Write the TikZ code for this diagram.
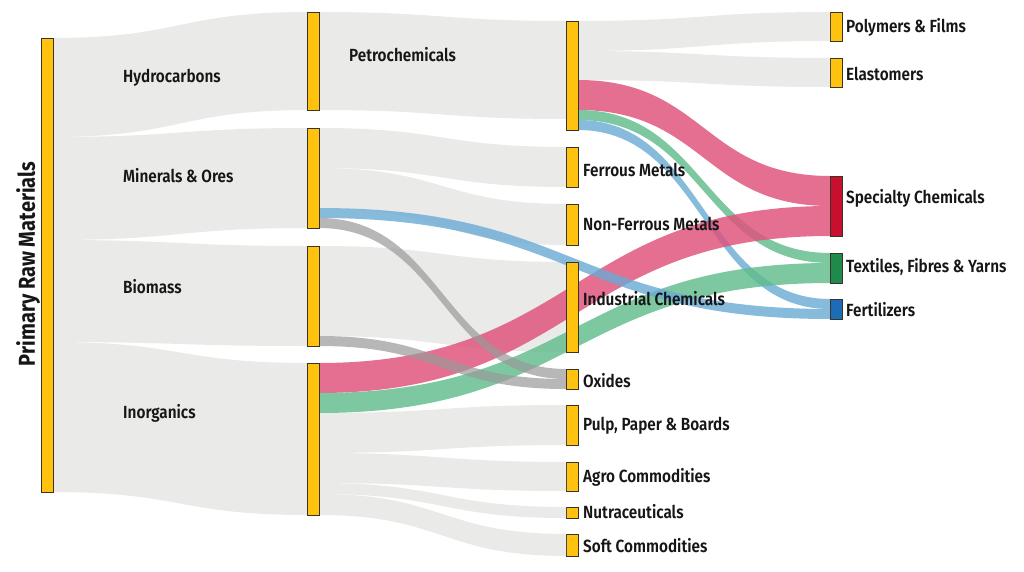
\documentclass[tikz,border=0pt]{standalone}
\usepackage{fontspec}
\setmainfont{Fira Sans}[UprightFont={* SemiBold}, BoldFont={* Bold}, FakeStretch=0.87]
\usetikzlibrary{calc}
\definecolor{flowgray}{HTML}{E8E8E6}
\definecolor{barfill}{HTML}{FFC20E}
\definecolor{barline}{HTML}{3A3428}
\definecolor{pinkf}{HTML}{E0507A}
\definecolor{greenf}{HTML}{5DBB8A}
\definecolor{bluef}{HTML}{6AAAD4}
\definecolor{greyline}{HTML}{999999}
\definecolor{specc}{HTML}{C8102E}
\definecolor{textilec}{HTML}{1E8A4C}
\definecolor{fertc}{HTML}{1C6DB5}
\definecolor{txt}{HTML}{161616}
% bar: [style]{name}{left x}{top}{bottom}
\newcommand\sbar[5][]{\node[bar,#1,minimum height={(#5-#4)*1pt}] (#2) at ({#3+6},{(#4+#5)/2}) {};}
% flow: style, source node, top, bottom, target node, top, bottom
\newcommand\flow[7]{\path[#1] let \p1=(#2.east), \p2=(#5.west), \n1={\x1}, \n2={\x2}, \n3={(\x1+\x2)/2} in
  (\n1,#3) .. controls (\n3,#3) and (\n3,#6) .. (\n2,#6) -- (\n2,#7) .. controls (\n3,#7) and (\n3,#4) .. (\n1,#4) -- cycle;}
\begin{document}
\begin{tikzpicture}[x=1pt,y=-1pt,
  bar/.style={draw=barline, fill=barfill, line width=0.9pt, inner sep=0pt, outer sep=0pt, minimum width=12pt},
  lab/.style={anchor=west, inner sep=0pt, text=txt, font=\fontsize{17.6}{20}\selectfont},
  gflow/.style={fill=flowgray, fill opacity=0.9},
  pflow/.style={fill=pinkf, fill opacity=0.82},
  grflow/.style={fill=greenf, fill opacity=0.8},
  bflow/.style={fill=bluef, fill opacity=0.8},
  lflow/.style={fill=greyline, fill opacity=0.7}]
\fill[white] (0,0) rectangle (1024,572);
\useasboundingbox (0,0) rectangle (1024,572);
% bars
\sbar{raw}{41}{38}{492}
\sbar{petro}{307}{12}{110}
\sbar{miner}{307}{128}{228}
\sbar{bio}{307}{246}{346}
\sbar{inorg}{307}{363}{515}
\sbar{top}{566}{21}{130}
\sbar{ferr}{566}{147}{187}
\sbar{nonf}{566}{204}{245}
\sbar{indc}{566}{262}{352}
\sbar{oxid}{566}{369}{389}
\sbar{pulp}{566}{405}{445}
\sbar{agro}{566}{462}{491}
\sbar{nutra}{566}{507}{518}
\sbar{soft}{566}{534}{556}
\sbar{poly}{830}{12}{41}
\sbar{elas}{830}{58}{87}
\sbar[fill=specc]{spec}{830}{176}{236}
\sbar[fill=textilec]{texti}{830}{253}{283}
\sbar[fill=fertc]{fert}{830}{299}{319}
% gray flows
\flow{gflow}{raw}{38}{137}{petro}{12}{110}
\flow{gflow}{raw}{137}{240}{miner}{128}{228}
\flow{gflow}{raw}{240}{342}{bio}{246}{346}
\flow{gflow}{raw}{342}{492}{inorg}{363}{515}
\flow{gflow}{petro}{12}{110}{top}{21}{119}
\flow{gflow}{miner}{128}{168}{ferr}{147}{187}
\flow{gflow}{miner}{168}{208}{nonf}{204}{245}
\flow{gflow}{bio}{246}{336}{indc}{262}{352}
\flow{gflow}{inorg}{413}{453}{pulp}{405}{445}
\flow{gflow}{inorg}{453}{483}{agro}{462}{491}
\flow{gflow}{inorg}{483}{494}{nutra}{507}{518}
\flow{gflow}{inorg}{494}{515}{soft}{534}{556}
\flow{gflow}{top}{21}{51}{poly}{12}{41}
\flow{gflow}{top}{51}{80}{elas}{58}{87}
% coloured flows
\flow{pflow}{top}{80}{110}{spec}{176}{206}
\flow{grflow}{top}{110}{120}{texti}{253}{263}
\flow{bflow}{top}{120}{130}{fert}{299}{309}
\flow{pflow}{inorg}{363}{393}{spec}{206}{236}
\flow{grflow}{inorg}{393}{413}{texti}{263}{283}
\flow{bflow}{miner}{208}{218}{fert}{309}{319}
\flow{lflow}{miner}{218}{228}{oxid}{369}{379}
\flow{lflow}{bio}{336}{346}{oxid}{379}{389}
% redraw bars on top of the flows
\sbar{raw2}{41}{38}{492}
\sbar{petro2}{307}{12}{110}
\sbar{miner2}{307}{128}{228}
\sbar{bio2}{307}{246}{346}
\sbar{inorg2}{307}{363}{515}
\sbar{top2}{566}{21}{130}
\sbar{ferr2}{566}{147}{187}
\sbar{nonf2}{566}{204}{245}
\sbar{indc2}{566}{262}{352}
\sbar{oxid2}{566}{369}{389}
\sbar[fill=specc]{spec2}{830}{176}{236}
\sbar[fill=textilec]{texti2}{830}{253}{283}
\sbar[fill=fertc]{fert2}{830}{299}{319}
% labels
\node[rotate=90, inner sep=0pt, text=txt, font=\bfseries\fontsize{23}{26}\selectfont] (title) at (28,264) {Primary Raw Materials};
\node[lab] (lhyd) at (123,78) {Hydrocarbons};
\node[lab] (lmin) at (123,176) {Minerals \& Ores};
\node[lab] (lbio) at (123,287) {Biomass};
\node[lab] (linorg) at (123,413) {Inorganics};
\node[lab] (lpetro) at (349,55) {Petrochemicals};
\node[lab] (lferr) at (583,170) {Ferrous Metals};
\node[lab] (lnonf) at (583,224) {Non-Ferrous Metals};
\node[lab] (lindc) at (583,299) {Industrial Chemicals};
\node[lab] (loxid) at (583,381) {Oxides};
\node[lab] (lpulp) at (583,426) {Pulp, Paper \& Boards};
\node[lab] (lagro) at (583,477) {Agro Commodities};
\node[lab] (lnutra) at (583,512) {Nutraceuticals};
\node[lab] (lsoft) at (583,546) {Soft Commodities};
\node[lab] (lpoly) at (846,27) {Polymers \& Films};
\node[lab] (lelas) at (846,74) {Elastomers};
\node[lab] (lspec) at (846,198) {Specialty Chemicals};
\node[lab] (ltexti) at (846,267) {Textiles, Fibres \& Yarns};
\node[lab] (lfert) at (846,310) {Fertilizers};
\end{tikzpicture}
\end{document}
